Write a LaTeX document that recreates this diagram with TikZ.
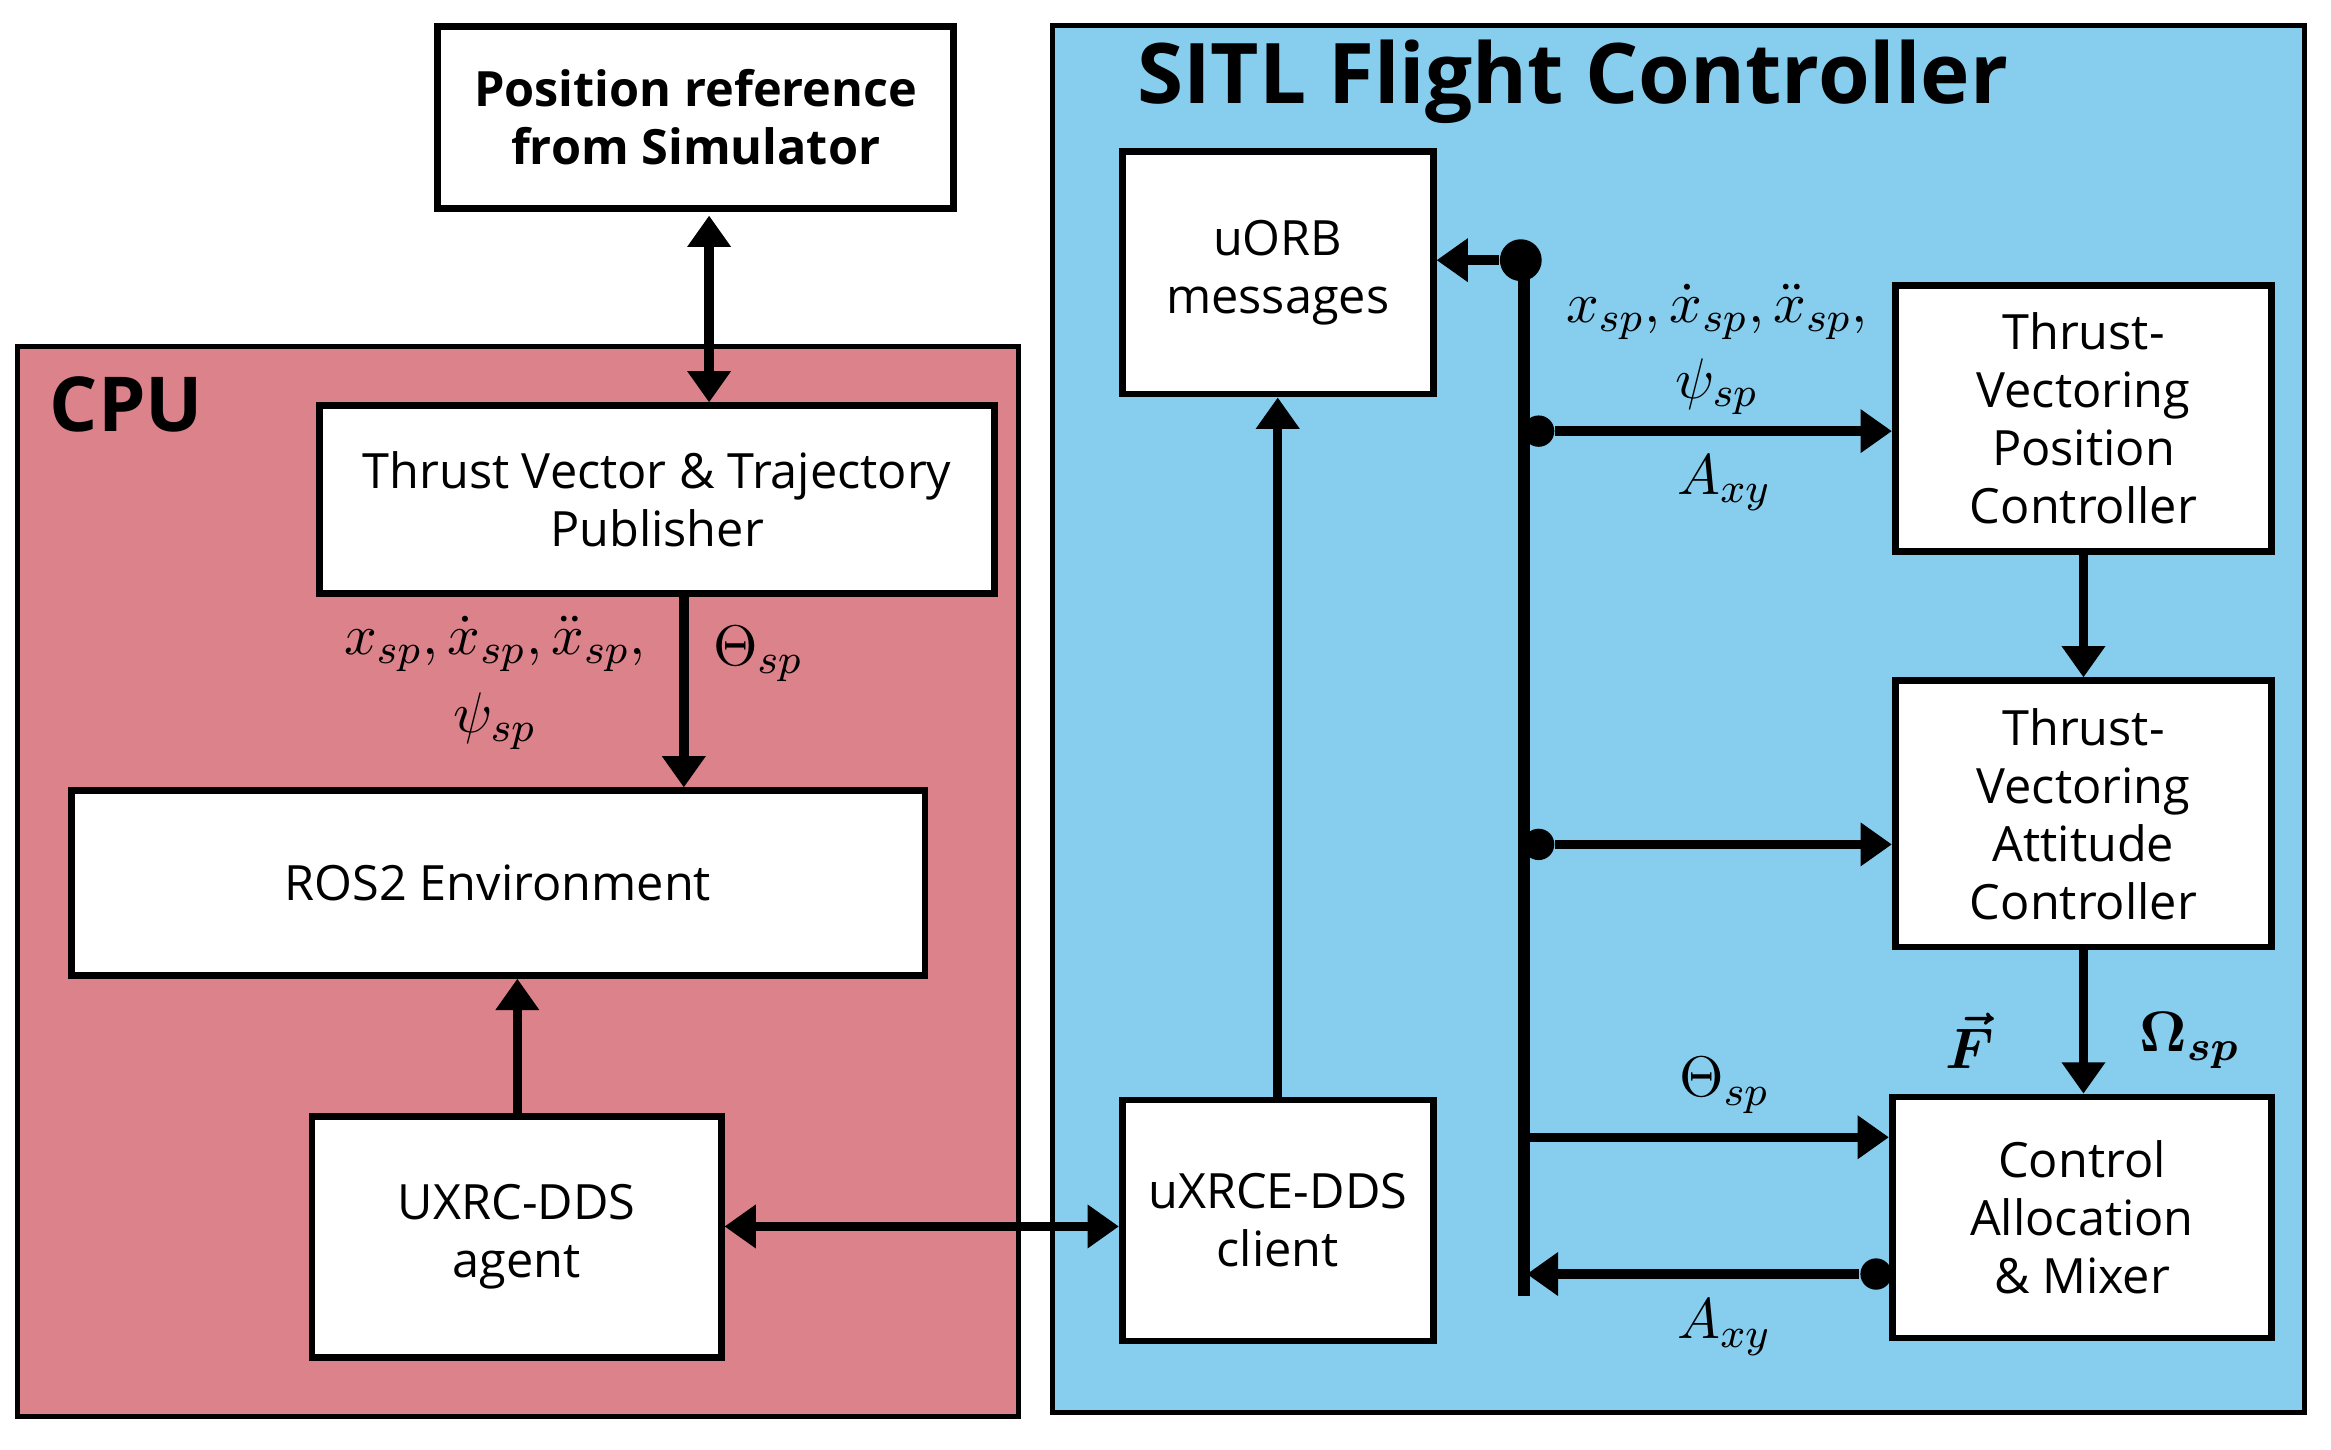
\documentclass[tikz,border=0pt]{standalone}
\usepackage{amsmath}
\usepackage{fontspec}
\setmainfont{Open Sans}
\usetikzlibrary{arrows.meta,calc}
\definecolor{cpu}{RGB}{220,130,138}
\definecolor{sitl}{RGB}{135,206,238}
\begin{document}
\begin{tikzpicture}[x=0.01cm,y=-0.01cm,
  box/.style={draw,line width=1.3pt,fill=white,align=center,inner sep=0pt,font=\fontsize{9.3}{11.1}\selectfont},
  arr/.style={line width=1.8pt,-{Triangle[length=6pt,width=8pt]}},
  darr/.style={line width=1.8pt,{Triangle[length=6pt,width=8pt]}-{Triangle[length=6pt,width=8pt]}},
  dot/.style={circle,fill,inner sep=0pt,minimum size=6pt},
  lab/.style={font=\fontsize{11}{13}\selectfont,inner sep=1pt}]
\useasboundingbox (0,0) rectangle (1568,975);
\fill[white] (0,0) rectangle (1568,975);
\draw[line width=1pt,fill=cpu] (12,233) rectangle (685,953);
\draw[line width=1pt,fill=sitl] (708,17) rectangle (1550,950);
\node[font=\fontsize{14.5}{17}\selectfont\bfseries] (cpu) at (85,272) {CPU};
\node[font=\fontsize{16}{19}\selectfont\bfseries] (sitl) at (1058,55) {SITL Flight Controller};
\node[box,minimum width=3.47cm,minimum height=1.22cm,font=\fontsize{9.3}{11.1}\selectfont\bfseries] (pos) at (468,79) {Position reference\\from Simulator};
\node[box,minimum width=4.54cm,minimum height=1.26cm] (pub) at (442,336) {Thrust Vector \& Trajectory\\Publisher};
\node[box,minimum width=5.74cm,minimum height=1.24cm] (ros) at (335,594) {ROS2 Environment};
\node[box,minimum width=2.75cm,minimum height=1.62cm] (agent) at (347.5,832) {UXRC-DDS\\agent};
\node[box,minimum width=2.09cm,minimum height=1.63cm] (uorb) at (859.5,183.5) {uORB\\messages};
\node[box,minimum width=2.09cm,minimum height=1.62cm] (client) at (859.5,821) {uXRCE-DDS\\client};
\node[box,minimum width=2.53cm,minimum height=1.79cm] (tvp) at (1401.5,281.5) {Thrust-\\Vectoring\\Position\\Controller};
\node[box,minimum width=2.53cm,minimum height=1.79cm] (tva) at (1401.5,547.5) {Thrust-\\Vectoring\\Attitude\\Controller};
\node[box,minimum width=2.55cm,minimum height=1.62cm] (ca) at (1400.5,819) {Control\\Allocation\\\& Mixer};
% left arrows
\draw[darr] (477,145) -- (pub.north -| 477,0);
\draw[arr] (pub.south -| 460,0) -- (ros.north -| 460,0);
\draw[arr] (agent.north -| 348,0) -- (ros.south -| 348,0);
\draw[darr] (agent.east |- 0,825) -- (client.west |- 0,825);
\draw[arr] (client.north) -- (uorb.south);
% bus
\coordinate (btop) at (1025,175);
\coordinate (bbot) at (1025,872);
\draw[line width=2.4pt] (btop) -- (bbot);
\node[dot,minimum size=8pt] (d0) at (1023,175) {};
\draw[arr] (d0) -- (uorb.east |- d0);
\node[dot] (d1) at (1035,290) {};
\draw[arr] (d1) -- (tvp.west |- d1);
\node[dot] (d2) at (1035,568) {};
\draw[arr] (d2) -- (tva.west |- d2);
\coordinate (d3) at (1025,765);
\draw[arr] (d3) -- (ca.west |- d3);
\node[dot] (d4) at (1262,857) {};
\draw[arr] (d4) -- (1027,857);
\draw[arr] (tvp.south) -- (tva.north -| tvp.south);
\draw[arr] (tva.south) -- (tva.south |- ca.north);
% labels
\node[lab] (l1) at (333,433) {$x_{sp},\dot x_{sp},\ddot x_{sp},$};
\node[lab] (l2) at (333,485) {$\psi_{sp}$};
\node[lab] (l3) at (510,440) {$\Theta_{sp}$};
\node[lab] (r1) at (1155,210) {$x_{sp},\dot x_{sp},\ddot x_{sp},$};
\node[lab] (r2) at (1155,260) {$\psi_{sp}$};
\node[lab] (r3) at (1160,325) {$A_{xy}$};
\node[lab] (r4) at (1325,700) {$\boldsymbol{\vec F}$};
\node[lab] (r5) at (1473,700) {$\boldsymbol{\Omega_{sp}}$};
\node[lab] (r6) at (1160,730) {$\Theta_{sp}$};
\node[lab] (r7) at (1160,893) {$A_{xy}$};
\end{tikzpicture}
\end{document}
